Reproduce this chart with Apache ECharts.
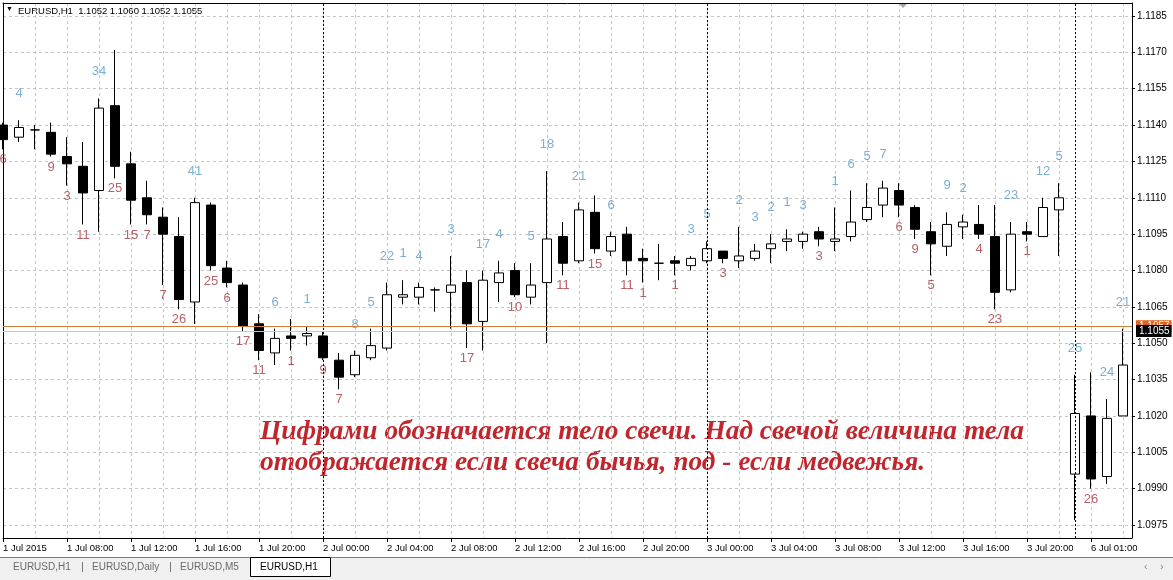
<!DOCTYPE html>
<html><head><meta charset="utf-8">
<script src="https://cdn.jsdelivr.net/npm/echarts@6/dist/echarts.min.js"></script>
<style>html,body{margin:0;padding:0;background:#fff}#c{width:1173px;height:580px}</style>
</head><body><div id="c"></div>
<script>
// ---- data (EURUSD H1, one bar per hour) ----
const timeLabels = ['1 Jul 2015','1 Jul 08:00','1 Jul 12:00','1 Jul 16:00','1 Jul 20:00','2 Jul 00:00','2 Jul 04:00','2 Jul 08:00','2 Jul 12:00','2 Jul 16:00','2 Jul 20:00','3 Jul 00:00','3 Jul 04:00','3 Jul 08:00','3 Jul 12:00','3 Jul 16:00','3 Jul 20:00','6 Jul 01:00'];
const labelBars = [0,4,8,12,16,20,24,28,32,36,40,44,48,52,56,60,64,68];
const opens  = [1.1140,1.1135,1.1138,1.1137,1.1127,1.1123,1.1113,1.1148,1.1124,1.1110,1.1102,1.1094,1.1067,1.1107,1.1081,1.1074,1.1058,1.1046,1.1053,1.1053,1.1053,1.1043,1.1037,1.1044,1.1048,1.1069,1.1069,1.1072,1.1071,1.1075,1.1059,1.1075,1.1080,1.1069,1.1075,1.1094,1.1084,1.1104,1.1088,1.1095,1.1085,1.1083,1.1084,1.1082,1.1084,1.1088,1.1084,1.1085,1.1089,1.1092,1.1092,1.1096,1.1092,1.1094,1.1101,1.1107,1.1113,1.1106,1.1096,1.1090,1.1098,1.1099,1.1094,1.1072,1.1096,1.1094,1.1105,1.0996,1.1020,1.0995,1.1020];
const highs  = [1.1141,1.1142,1.1140,1.1141,1.1135,1.1133,1.1151,1.1171,1.1129,1.1117,1.1106,1.1102,1.1110,1.1108,1.1084,1.1075,1.1062,1.1056,1.1060,1.1057,1.1055,1.1046,1.1047,1.1056,1.1075,1.1076,1.1075,1.1073,1.1086,1.1080,1.1080,1.1084,1.1083,1.1083,1.1121,1.1100,1.1108,1.1111,1.1096,1.1098,1.1089,1.1091,1.1086,1.1086,1.1092,1.1088,1.1098,1.1091,1.1095,1.1097,1.1096,1.1098,1.1106,1.1113,1.1116,1.1117,1.1116,1.1107,1.1100,1.1104,1.1103,1.1107,1.1107,1.1100,1.1100,1.1110,1.1116,1.1037,1.1038,1.1027,1.1056];
const lows   = [1.1130,1.1133,1.1130,1.1127,1.1115,1.1099,1.1096,1.1118,1.1099,1.1099,1.1074,1.1064,1.1058,1.1080,1.1073,1.1055,1.1043,1.1041,1.1047,1.1049,1.1043,1.1031,1.1036,1.1043,1.1047,1.1066,1.1066,1.1063,1.1056,1.1048,1.1047,1.1067,1.1069,1.1066,1.1050,1.1078,1.1083,1.1087,1.1086,1.1078,1.1075,1.1076,1.1078,1.1080,1.1083,1.1083,1.1081,1.1084,1.1083,1.1088,1.1089,1.1090,1.1088,1.1092,1.1100,1.1102,1.1102,1.1093,1.1078,1.1086,1.1093,1.1093,1.1064,1.1071,1.1092,1.1094,1.1086,1.0977,1.0990,1.0992,1.1020];
const closes = [1.1134,1.1139,1.1138,1.1128,1.1124,1.1112,1.1147,1.1123,1.1109,1.1103,1.1095,1.1068,1.1108,1.1082,1.1075,1.1057,1.1047,1.1052,1.1052,1.1054,1.1044,1.1036,1.1045,1.1049,1.1070,1.1070,1.1073,1.1072,1.1074,1.1058,1.1076,1.1079,1.1070,1.1074,1.1093,1.1083,1.1105,1.1089,1.1094,1.1084,1.1084,1.1083,1.1083,1.1085,1.1089,1.1085,1.1086,1.1088,1.1091,1.1093,1.1095,1.1093,1.1093,1.1100,1.1106,1.1114,1.1107,1.1097,1.1091,1.1099,1.1100,1.1095,1.1071,1.1095,1.1095,1.1106,1.1110,1.1021,1.0994,1.1019,1.1041];
const bodyLabels = [6,4,null,9,3,11,34,25,15,7,7,26,41,25,6,17,11,6,1,1,9,7,8,5,22,1,4,null,3,17,17,4,10,5,18,11,21,15,6,11,1,null,1,3,5,3,2,3,2,1,3,3,1,6,5,7,6,9,5,9,2,4,23,23,1,12,5,25,26,24,21];
const priceTicks = [1.0975,1.0990,1.1005,1.1020,1.1035,1.1050,1.1065,1.1080,1.1095,1.1110,1.1125,1.1140,1.1155,1.1170,1.1185];
const daySeparatorBars = [20,44,67];
const bidPrice = 1.1055, askPrice = 1.1057;
const headerText = 'EURUSD,H1  1.1052 1.1060 1.1052 1.1055';
const annotationLines = ['Цифрами обозначается тело свечи. Над свечой величина тела','отображается если свеча бычья, под - если медвежья.'];
const tabs = ['EURUSD,H1','EURUSD,Daily','EURUSD,M5','EURUSD,H1'];

// ---- build ----
const candles = opens.map((o,i)=>[i,o,closes[i],lows[i],highs[i]]);
const upLabels = [], downLabels = [];
bodyLabels.forEach((v,i)=>{
  if (v == null) return;
  if (closes[i] > opens[i]) upLabels.push([i, highs[i], v]);
  else downLabels.push([i, lows[i], v]);
});
const lastBar = opens.length - 1;
const grid = {left:3, top:3, width:1129, height:535};
const xMax = 70.5625, yMin = 1.096964, yMax = 1.119036;
const gridLine = {show:true, lineStyle:{color:'#c4c4c4', type:[3,3], width:1}};
const sans = '"Liberation Sans", Arial, sans-serif';
const serifFont = 'italic bold 27.4px "Liberation Serif", "Times New Roman", serif';

const chart = echarts.init(document.getElementById('c'), null, {renderer:'canvas'});
chart.setOption({
  animation:false,
  backgroundColor:'#fff',
  grid: grid,
  xAxis:[{
    type:'value', min:0, max:xMax, position:'bottom',
    axisLine:{show:true, onZero:false, lineStyle:{color:'#000', width:1}},
    axisTick:{show:true, customValues:labelBars, length:4, lineStyle:{color:'#000'}},
    axisLabel:{show:true, customValues:labelBars, align:'left', margin:5, color:'#000', fontSize:9.5, fontFamily:sans,
      formatter:v=>{const j=labelBars.indexOf(Math.round(v)); return j>=0?timeLabels[j]:'';}},
    splitLine:{show:false}
  },{
    type:'value', min:0, max:xMax, interval:2, position:'top',
    axisLine:{show:true, onZero:false, lineStyle:{color:'#000', width:1}},
    axisTick:{show:false}, axisLabel:{show:false},
    splitLine:gridLine
  }],
  yAxis:[{
    type:'value', min:yMin, max:yMax, position:'right', scale:true,
    axisLine:{show:true, onZero:false, lineStyle:{color:'#000', width:1}},
    axisTick:{show:true, customValues:priceTicks, length:3, lineStyle:{color:'#000'}},
    axisLabel:{show:true, customValues:priceTicks, margin:5, color:'#000', fontSize:10, fontFamily:sans,
      formatter:v=>v.toFixed(4)},
    splitLine:gridLine
  },{
    type:'value', min:yMin, max:yMax, position:'left', scale:true,
    axisLine:{show:true, onZero:false, lineStyle:{color:'#000', width:1}},
    axisTick:{show:false}, axisLabel:{show:false}, splitLine:{show:false}
  }],
  series:[{
    // bid / ask price lines, drawn behind the candles
    type:'scatter', xAxisIndex:0, yAxisIndex:0, z:1, data:[[lastBar, bidPrice]], symbolSize:0, silent:true,
    itemStyle:{color:'transparent'},
    markLine:{
      silent:true, symbol:['none','none'], animation:false, precision:5,
      data:[
        {yAxis:askPrice, lineStyle:{color:'#d47a3a', type:'solid', width:1},
          label:{show:true, position:'end', formatter:askPrice.toFixed(4), color:'#fff', backgroundColor:'#e0601c', fontSize:10, fontFamily:sans, padding:[1,2,1,3], distance:4}},
        {yAxis:bidPrice, lineStyle:{color:'#dcc3a8', type:'solid', width:1},
          label:{show:true, position:'end', formatter:bidPrice.toFixed(4), color:'#fff', backgroundColor:'#000', fontSize:10, fontFamily:sans, padding:[1,2,1,3], distance:4}}
      ]
    }
  },{
    type:'candlestick', xAxisIndex:0, yAxisIndex:0, z:3,
    data:candles, encode:{x:0, y:[1,2,3,4]},
    barWidth:9, clip:true,
    itemStyle:{color:'#fff', color0:'#000', borderColor:'#000', borderColor0:'#000', borderColorDoji:'#000', borderWidth:1},
    markLine:{
      silent:true, symbol:['none','none'], animation:false, precision:4,
      data: daySeparatorBars.map(b=>({xAxis:b, lineStyle:{color:'#000', type:[2,2], width:1}, label:{show:false}}))
    }
  },{
    type:'scatter', xAxisIndex:0, yAxisIndex:0, z:4, data:upLabels, symbolSize:0, silent:true, clip:false,
    itemStyle:{color:'transparent'},
    label:{show:true, position:'inside', offset:[0,-26.5], formatter:p=>String(p.value[2]), color:'#5a9cc6', fontSize:13, fontFamily:sans}
  },{
    type:'scatter', xAxisIndex:0, yAxisIndex:0, z:4, data:downLabels, symbolSize:0, silent:true, clip:false,
    itemStyle:{color:'transparent'},
    label:{show:true, position:'inside', offset:[0,10.5], formatter:p=>String(p.value[2]), color:'#a23a40', fontSize:13, fontFamily:sans}
  }],
  graphic:[
    {type:'text', left:6, top:6, style:{text:'▼', font:'7px '+sans, fill:'#000'}},
    {type:'text', x:18, y:11, style:{text:headerText, font:'9.5px '+sans, fill:'#000', verticalAlign:'middle'}},
    {type:'polygon', shape:{points:[[899,4],[907,4],[903,8]]}, style:{fill:'#a8a8a8'}},
    {type:'text', x:260, y:432, style:{text:annotationLines[0], font:serifFont, fill:'#c0262c', verticalAlign:'middle'}},
    {type:'text', x:260, y:463, style:{text:annotationLines[1], font:serifFont, fill:'#c0262c', verticalAlign:'middle'}},
    {type:'rect', shape:{x:0, y:557, width:1173, height:23}, style:{fill:'#f0f0f0'}},
    {type:'line', shape:{x1:0, y1:557.5, x2:1173, y2:557.5}, style:{stroke:'#7a7a7a', lineWidth:1}},
    {type:'rect', shape:{x:250.5, y:557.5, width:80, height:19}, style:{fill:'#fff', stroke:'#000', lineWidth:1}},
    {type:'text', x:13, y:567, style:{text:tabs[0], font:'10px '+sans, fill:'#6a6a6a', verticalAlign:'middle'}},
    {type:'text', x:81, y:567, style:{text:'|', font:'11px '+sans, fill:'#6a6a6a', verticalAlign:'middle'}},
    {type:'text', x:92, y:567, style:{text:tabs[1], font:'10px '+sans, fill:'#6a6a6a', verticalAlign:'middle'}},
    {type:'text', x:169, y:567, style:{text:'|', font:'11px '+sans, fill:'#6a6a6a', verticalAlign:'middle'}},
    {type:'text', x:180, y:567, style:{text:tabs[2], font:'10px '+sans, fill:'#6a6a6a', verticalAlign:'middle'}},
    {type:'text', x:260, y:567, style:{text:tabs[3], font:'10px '+sans, fill:'#000', verticalAlign:'middle'}},
    {type:'text', x:1144, y:567, style:{text:'‹', font:'11px '+sans, fill:'#8a8a8a', verticalAlign:'middle'}},
    {type:'text', x:1160, y:567, style:{text:'›', font:'11px '+sans, fill:'#8a8a8a', verticalAlign:'middle'}}
  ]
});
</script></body></html>
